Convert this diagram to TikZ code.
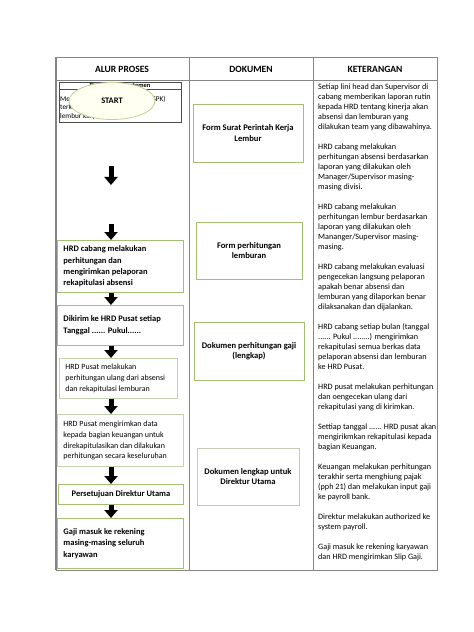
\documentclass[tikz,border=0pt]{standalone}
\usepackage{fontspec}
\setmainfont{Carlito}
\usetikzlibrary{arrows.meta,shapes.geometric,calc}
\definecolor{tline}{HTML}{858585}
\definecolor{gbox}{HTML}{A3BF74}
\definecolor{gboxl}{HTML}{C4D3AC}
\definecolor{graybox}{HTML}{C9C9B6}
\definecolor{ellfill}{HTML}{FFFFF2}
\definecolor{ellline}{HTML}{BFD194}
\begin{document}
\begin{tikzpicture}[x=1bp,y=-1bp,
  tablerule/.style={draw=tline, line width=0.9bp},
  headtext/.style={font=\fontsize{9.6}{11}\selectfont\bfseries, inner sep=0},
  flowbox/.style={draw=gbox, line width=0.9bp, anchor=north west, inner xsep=6bp, inner ysep=0, align=flush left},
  boldtxt/.style={font=\fontsize{8.5}{11.5}\selectfont\bfseries},
  smalltxt/.style={font=\fontsize{8}{11}\selectfont},
  docbox/.style={draw=gbox, line width=0.9bp, align=center, inner sep=0, font=\fontsize{8.6}{10.5}\selectfont\bfseries},
  notetext/.style={anchor=north west, inner sep=0, align=flush left, font=\fontsize{8.2}{10}\selectfont},
  blk/.style={-{Triangle[width=13bp,length=8bp]}, line width=5bp, black}
]
\useasboundingbox (0,0) rectangle (474,632);
\fill[white] (0,0) rectangle (474,632);
% table
\draw[tablerule] (56,57) rectangle (437,570);
\draw[tablerule, line width=1.4bp] (56,57) -- (56,570);
\draw[tablerule] (56,80) -- (437,80);
\draw[tablerule] (189,57) -- (189,570);
\draw[tablerule] (313,57) -- (313,570);
\node[headtext] (h1) at (122,69) {ALUR PROSES};
\node[headtext] (h2) at (251,69) {DOKUMEN};
\node[headtext] (h3) at (375,69) {KETERANGAN};
% inner top box (partly hidden by START)
\draw[black!70, line width=0.7bp] (59,82) rectangle (181,122);
\draw[black!70, line width=0.7bp] (59,89) -- (181,89);
\node[font=\fontsize{6.5}{8}\selectfont\bfseries, inner sep=0] (ph) at (120,85.5) {Pimpinan Departemen};
\node[anchor=north west, inner sep=0, align=flush left, font=\fontsize{7.3}{8.5}\selectfont] (pb) at (60,96)
  {Membuat surat perintah kerja (SPK)\\terkait pelaksanaan kerja\\lembur karyawan};
\node[ellipse, draw=ellline, fill=ellfill, line width=0.8bp, minimum width=86bp, minimum height=37bp, inner sep=0,
  font=\fontsize{8.5}{10}\selectfont\bfseries] (start) at (112,101) {START};
% left flow
\coordinate (ax) at (111,0);
\node[flowbox, boldtxt, minimum width=126bp, minimum height=52bp, text width=114bp] (b1) at (57,240)
  {HRD cabang melakukan\\perhitungan dan\\mengirimkan pelaporan\\rekapitulasi absensi};
\node[flowbox, boldtxt, minimum width=126bp, minimum height=40bp, text width=114bp] (b2) at (57,305)
  {Dikirim ke HRD Pusat setiap\\Tanggal ...... Pukul......};
\node[flowbox, smalltxt, draw=gboxl, minimum width=118bp, minimum height=40bp, text width=106bp] (b3) at (59,358)
  {HRD Pusat melakukan\\perhitungan ulang dari absensi\\dan rekapitulasi lemburan};
\node[flowbox, smalltxt, draw=gboxl, minimum width=126bp, minimum height=52bp, text width=114bp] (b4) at (57,414)
  {HRD Pusat mengirimkan data\\kepada bagian keuangan untuk\\direkapitulasikan dan dilakukan\\perhitungan secara keseluruhan};
\node[flowbox, boldtxt, align=flush center, minimum width=125bp, minimum height=20bp, text width=113bp] (b5) at (58,484)
  {Persetujuan Direktur Utama};
\node[flowbox, boldtxt, minimum width=126bp, minimum height=50bp, text width=114bp] (b6) at (57,518)
  {Gaji masuk ke rekening\\masing-masing seluruh\\karyawan};
\coordinate (a1s) at (111,166);
\coordinate (a1e) at (111,185);
\coordinate (a2s) at (111,224);
\draw[blk] (a1s) -- (a1e);
\draw[blk] (a2s) -- (b1.north -| ax);
\draw[blk] (b1.south -| ax) -- (b2.north -| ax);
\draw[blk] (b2.south -| ax) -- (b3.north -| ax);
\draw[blk] (b3.south -| ax) -- (b4.north -| ax);
\draw[blk] (b4.south -| ax) -- (b5.north -| ax);
\draw[blk] (b5.south -| ax) -- (b6.north -| ax);
% documents
\node[docbox, minimum width=110bp, minimum height=58bp] (m1) at (248,133) {Form Surat Perintah Kerja\\Lembur};
\node[docbox, minimum width=106bp, minimum height=57bp] (m2) at (249,250.5) {Form perhitungan\\lemburan};
\node[docbox, minimum width=110bp, minimum height=58bp] (m3) at (249,351) {Dokumen perhitungan gaji\\(lengkap)};
\node[docbox, draw=graybox, minimum width=102bp, minimum height=57bp] (m4) at (248,476.5) {Dokumen lengkap untuk\\Direktur Utama};
% notes
\node[notetext] (n1) at (318,83.5) {Setiap lini head dan Supervisor di\\cabang memberikan laporan rutin\\kepada HRD tentang kinerja akan\\absensi dan lemburan yang\\dilakukan team yang dibawahinya.};
\node[notetext] (n2) at (318,143.5) {HRD cabang melakukan\\perhitungan absensi berdasarkan\\laporan yang dilakukan oleh\\Manager/Supervisor masing-\\masing divisi.};
\node[notetext] (n3) at (318,203.5) {HRD cabang melakukan\\perhitungan lembur berdasarkan\\laporan yang dilakukan oleh\\Mananger/Supervisor masing-\\masing.};
\node[notetext] (n4) at (318,263.5) {HRD cabang melakukan evaluasi\\pengecekan langsung pelaporan\\apakah benar absensi dan\\lemburan yang dilaporkan benar\\dilaksanakan dan dijalankan.};
\node[notetext] (n5) at (318,323.5) {HRD cabang setiap bulan (tanggal\\...... Pukul ........) mengirimkan\\rekapitulasi semua berkas data\\pelaporan absensi dan lemburan\\ke HRD Pusat.};
\node[notetext] (n6) at (318,383.5) {HRD pusat melakukan perhitungan\\dan oengecekan ulang dari\\rekapitulasi yang di kirimkan.};
\node[notetext] (n7) at (318,423.5) {Settiap tanggal ...... HRD pusat akan\\mengirikmkan rekapitulasi kepada\\bagian Keuangan.};
\node[notetext] (n8) at (318,463.5) {Keuangan melakukan perhitungan\\terakhir serta menghiung pajak\\(pph 21) dan melakukan input gaji\\ke payroll bank.};
\node[notetext] (n9) at (318,513.5) {Direktur melakukan authorized ke\\system payroll.};
\node[notetext] (n10) at (318,543.5) {Gaji masuk ke rekening karyawan\\dan HRD mengirimkan Slip Gaji.};
\end{tikzpicture}
\end{document}
